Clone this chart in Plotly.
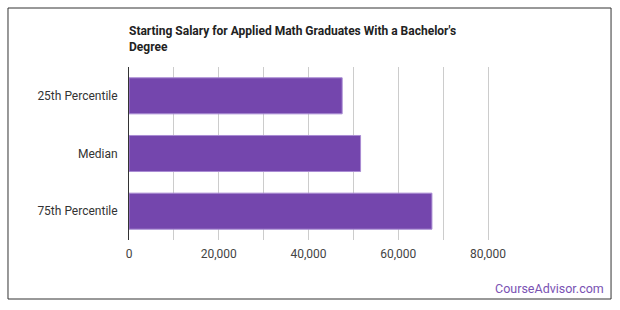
import plotly.graph_objects as go

categories = ["25th Percentile", "Median", "75th Percentile"]
salaries = [47500, 51600, 67500]
tick_vals = [0, 20000, 40000, 60000, 80000]
tick_text = ["0", "20,000", "40,000", "60,000", "80,000"]
title_text = "Starting Salary for Applied Math Graduates With a Bachelor's<br>Degree"
watermark = "CourseAdvisor.com"

W, H = 620, 310
L, T, B = 129, 67, 70
XMAX = 82000
pw = 359 * XMAX / 80000
R = W - L - pw
ph = H - T - B

fig = go.Figure(go.Bar(
    y=categories, x=salaries, orientation="h",
    marker=dict(color="#7446ad", line=dict(color="#a98bd3", width=1)),
    hoverinfo="skip",
))

def px_x(p):
    return (p - L) / pw

def px_y(p):
    return (H - B - p) / ph

fig.update_layout(
    width=W, height=H,
    margin=dict(l=L, r=R, t=T, b=B),
    paper_bgcolor="white", plot_bgcolor="white",
    bargap=0.375,
    showlegend=False,
    font=dict(family="Roboto", size=12, color="#333333"),
    xaxis=dict(
        range=[0, XMAX], tickvals=tick_vals, ticktext=tick_text,
        showgrid=True, gridcolor="#cccccc", gridwidth=1,
        minor=dict(tickvals=[10000, 30000, 50000, 70000], showgrid=True,
                   gridcolor="#cccccc", gridwidth=1),
        zeroline=False, showline=False, ticks="",
        ticklabelstandoff=5,
        tickfont=dict(size=12, color="#444444"),
        fixedrange=True,
    ),
    yaxis=dict(
        autorange="reversed", showgrid=False, zeroline=False,
        showline=True, linecolor="#333333", linewidth=1,
        ticks="", ticklabelstandoff=8,
        tickfont=dict(size=12, color="#333333"),
        fixedrange=True,
    ),
    annotations=[
        dict(text="<b>" + title_text + "</b>", xref="paper", yref="paper",
             x=px_x(127), y=px_y(22), xanchor="left", yanchor="top",
             align="left", showarrow=False,
             font=dict(family="Roboto", size=12, color="#222222")),
        dict(text=watermark, xref="paper", yref="paper",
             x=px_x(606), y=px_y(288), xanchor="right", yanchor="middle",
             showarrow=False,
             font=dict(family="Roboto", size=12.5, color="#7a52b3")),
    ],
    shapes=[
        dict(type="rect", xref="paper", yref="paper",
             x0=px_x(8), x1=px_x(611), y0=px_y(299), y1=px_y(8),
             line=dict(color="#333333", width=1), fillcolor="rgba(0,0,0,0)",
             layer="below"),
    ],
)

fig.write_html("out.html", config={"displayModeBar": False})
